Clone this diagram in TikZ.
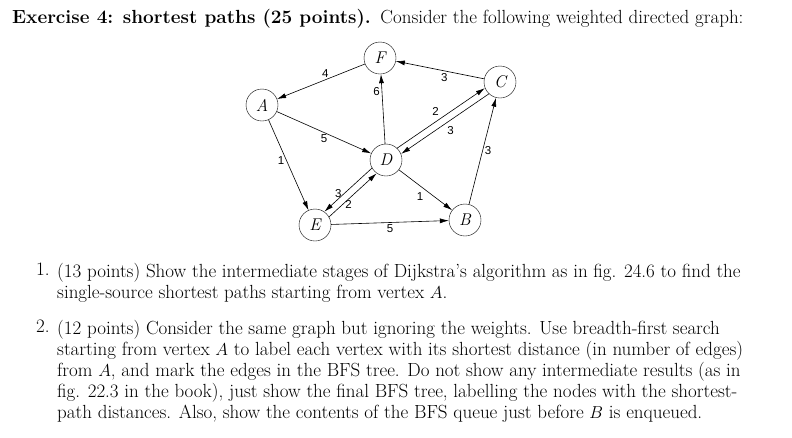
\documentclass[tikz,border=0pt]{standalone}
\usepackage{fontspec}
\newfontfamily\lab{Liberation Sans}
\usetikzlibrary{arrows.meta,calc}
\begin{document}
\begin{tikzpicture}[x=1pt,y=-1pt,
  vtx/.style={circle,draw,minimum size=32pt,inner sep=0pt,font=\fontsize{17}{17}\selectfont\itshape},
  edge/.style={draw,-{Latex[length=9pt,width=5pt]},line width=0.6pt},
  par/.style={edge,shorten <=15.5pt,shorten >=16pt},
  wt/.style={font=\lab\fontsize{11.5}{11.5}\selectfont,inner sep=2pt},
  txt/.style={anchor=north west,inner sep=0pt,align=left,font=\fontsize{19}{21}\selectfont}]
\useasboundingbox (0,0) rectangle (792,437);
\node[vtx] (F) at (380,58) {F};
\node[vtx] (A) at (262,105) {A};
\node[vtx] (C) at (500,82) {C};
\node[vtx] (D) at (386,160) {D};
\node[vtx] (E) at (315,225) {E};
\node[vtx] (B) at (465,220) {B};
\coordinate (D1) at ($(D)!3.5pt!90:(C)$);
\coordinate (C1) at ($(C)!3.5pt!-90:(D)$);
\coordinate (D2) at ($(D)!3.5pt!-90:(C)$);
\coordinate (C2) at ($(C)!3.5pt!90:(D)$);
\coordinate (E1) at ($(E)!3.5pt!-90:(D)$);
\coordinate (D3) at ($(D)!3.5pt!90:(E)$);
\coordinate (E2) at ($(E)!3.5pt!90:(D)$);
\coordinate (D4) at ($(D)!3.5pt!-90:(E)$);
\draw[edge] (F) -- node[wt,above,pos=0.45]{4} (A);
\draw[edge] (C) -- node[wt,below,pos=0.45]{3} (F);
\draw[edge] (D) -- node[wt,left,pos=0.75]{6} (F);
\draw[edge] (A) -- node[wt,below,pos=0.5]{5} (D);
\draw[edge] (A) -- node[wt,left,pos=0.45]{1} (E);
\draw[par] (D1) -- node[wt,above left,pos=0.5]{2} (C1);
\draw[par] (C2) -- node[wt,below right,pos=0.5]{3} (D2);
\draw[par] (E1) -- node[wt,above left=2pt,pos=0.4]{3} (D3);
\draw[par] (D4) -- node[wt,below right=2pt,pos=0.6]{2} (E2);
\draw[edge] (D) -- node[wt,below left,pos=0.5]{1} (B);
\draw[edge] (E) -- node[wt,below,pos=0.5]{5} (B);
\draw[edge] (B) -- node[wt,right,pos=0.5]{3} (C);
\node[txt] (h) at (12,9) {\textbf{Exercise 4: shortest paths (25 points).}\enspace Consider the following weighted directed graph:};
\node[txt] (n1) at (36,263) {1.};
\node[txt] (t1) at (57,263) {(13 points) Show the intermediate stages of Dijkstra's algorithm as in fig. 24.6 to find the\\single-source shortest paths starting from vertex $A$.};
\node[txt] (n2) at (36,320) {2.};
\node[txt] (t2) at (57,320) {(12 points) Consider the same graph but ignoring the weights. Use breadth-first search\\starting from vertex $A$ to label each vertex with its shortest distance (in number of edges)\\from $A$, and mark the edges in the BFS tree. Do not show any intermediate results (as in\\fig. 22.3 in the book), just show the final BFS tree, labelling the nodes with the shortest-\\path distances. Also, show the contents of the BFS queue just before $B$ is enqueued.};
\end{tikzpicture}
\end{document}
